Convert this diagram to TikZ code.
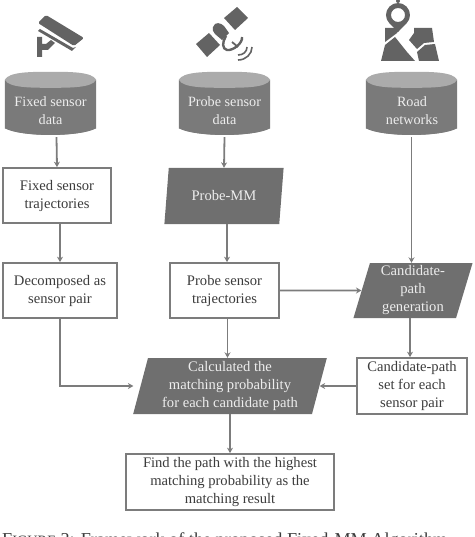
\documentclass[tikz,border=0pt]{standalone}
\usepackage{fontspec}
\setmainfont{Liberation Serif}
\usetikzlibrary{shapes.geometric,arrows.meta}
\definecolor{dk}{HTML}{6F6F6F}
\definecolor{icon}{HTML}{636363}
\definecolor{cyltop}{HTML}{ABABAB}
\definecolor{cylbody}{HTML}{7A7A7A}
\definecolor{edge}{HTML}{7C7C7C}
\definecolor{txt}{HTML}{3C3C3C}
\definecolor{ltxt}{HTML}{EDEDED}
\tikzset{
  x=1pt,y=-1pt,
  every node/.style={font=\fontsize{14.6}{18}\selectfont,align=center,inner sep=0pt},
  whitebox/.style={draw=edge,line width=1.7pt,fill=white,text=txt,rectangle},
  slantbox/.style={trapezium,trapezium left angle=76,trapezium right angle=104,trapezium stretches=true,fill=dk,text=ltxt},
  storeframe/.style={rectangle,minimum width=91pt,minimum height=65pt},
  storelabel/.style={text=ltxt,font=\fontsize{14.2}{18}\selectfont},
  arr/.style={draw=edge,line width=1.8pt,-{Stealth[length=5.5pt,width=6pt]}},
}
\newcommand{\storebody}[1]{%
  \fill[cylbody] ([yshift=-8pt]#1.north west) -- ([yshift=9pt]#1.south west)
    .. controls ([xshift=20pt]#1.south west) and ([xshift=-20pt]#1.south east) .. ([yshift=9pt]#1.south east)
    -- ([yshift=-8pt]#1.north east) -- cycle;
  \fill[cylbody] ([yshift=9pt]#1.south west) .. controls ([xshift=15pt,yshift=-0pt]#1.south west) and ([xshift=-15pt]#1.south east) .. ([yshift=9pt]#1.south east) -- cycle;
  \fill[cyltop] ([yshift=-8pt]#1.north west)
    .. controls ([xshift=4pt]#1.north west) and ([xshift=26pt]#1.north west) .. (#1.north)
    .. controls ([xshift=-26pt]#1.north east) and ([xshift=-4pt]#1.north east) .. ([yshift=-8pt]#1.north east)
    .. controls ([xshift=-4pt,yshift=-16pt]#1.north east) and ([xshift=-26pt,yshift=-16pt]#1.north east) .. ([yshift=-16pt]#1.north)
    .. controls ([xshift=26pt,yshift=-16pt]#1.north west) and ([xshift=4pt,yshift=-16pt]#1.north west) .. ([yshift=-8pt]#1.north west) -- cycle;
}
\begin{document}
\begin{tikzpicture}
\useasboundingbox (0,0) rectangle (474,537);
\clip (0,0) rectangle (474,537);
% stores
\node[storeframe] (s1) at (50.5,104.5) {};
\node[storeframe] (s2) at (224.5,104.5) {};
\node[storeframe] (s3) at (411.5,104.5) {};
\storebody{s1}
\storebody{s2}
\storebody{s3}
\node[storelabel] (t1) at (50.5,111) {Fixed sensor\\data};
\node[storelabel] (t2) at (224.5,111) {Probe sensor\\data};
\node[storelabel] (t3) at (412,111) {Road\\networks};
% boxes
\node[whitebox,minimum width=108pt,minimum height=55pt] (fixed) at (57,195.5) {Fixed sensor\\trajectories};
\node[whitebox,minimum width=114pt,minimum height=55pt] (decomp) at (60,290.5) {Decomposed as\\sensor pair};
\node[slantbox,minimum width=120pt,minimum height=56pt] (mm) at (224,196) {Probe-MM};
\node[whitebox,minimum width=109pt,minimum height=55pt] (ptraj) at (224.5,290.5) {Probe sensor\\trajectories};
\node[slantbox,minimum width=120pt,minimum height=55pt] (cand) at (413,290.5) {Candidate-\\path\\generation};
\node[whitebox,minimum width=110pt,minimum height=56pt] (cset) at (412,386) {Candidate-path\\set for each\\sensor pair};
\node[slantbox,minimum width=194pt,minimum height=56pt] (calc) at (230,386) {Calculated the\\matching probability\\for each candidate path};
\node[whitebox,minimum width=208pt,minimum height=56pt] (find) at (230,482) {Find the path with the highest\\matching probability as the\\matching result};
% connectors
\draw[arr] ([xshift=6]s1.south) -- (fixed.north);
\draw[arr] (s2.south) -- (mm.north);
\draw[arr] (s3.south) -- (s3.south |- cand.north);
\draw[arr] ([xshift=3]fixed.south) -- (decomp.north);
\draw[arr] ([xshift=3]mm.south) -- ([xshift=3]mm.south |- ptraj.north);
\draw[arr] ([xshift=3]ptraj.south) -- ([xshift=3]ptraj.south |- calc.north);
\draw[arr] (ptraj.east) -- (cand.west);
\draw[arr] ([xshift=-3]cand.south) -- ([xshift=-3]cand.south |- cset.north);
\draw[arr] (cset.west) -- (calc.east);
\draw[arr] (decomp.south) |- ([xshift=-7]calc.west);
\draw[arr] (calc.south) -- (find.north);
% camera
\fill[icon,rounded corners=1.5pt] (38,23) -- (46,15) -- (84,38) -- (74,46) -- cycle;
\fill[icon] (38,31) -- (40,29) -- (73,48) -- (76,47) -- (72,51) -- cycle;
\fill[icon] (37,37) -- (42,37) -- (42,44) -- (46,44) -- (51,40) -- (55,43) -- (48,50) -- (42,50) -- (42,57) -- (37,57) -- cycle;
% satellite
\fill[icon] (196,44) -- (209,33) -- (220,45) -- (207,57) -- cycle;
\fill[icon] (224,18) -- (237,7) -- (248,18) -- (235,30) -- cycle;
\fill[icon] (213,27) .. controls (215,21) and (221,23) .. (224,26) -- (229,33) -- (222,40) -- (215,34) .. controls (213,32) and (212,29) .. (213,27) -- cycle;
\draw[icon,line width=2.4pt] (226,36) .. controls (222,42) and (222,49) .. (227,50) .. controls (233,51) and (243,43) .. (242,37);
\draw[icon,line width=1.8pt] (232,42) -- (238,47);
\draw[icon,line width=1.6pt] (238,60) .. controls (246,60) and (252,54) .. (252,47);
\draw[icon,line width=1.6pt] (238,55) .. controls (243,55) and (247,52) .. (247,47);
% map
\fill[icon,even odd rule] (398,32) -- (389.5,23.5) arc[start angle=135,end angle=405,radius=12] -- cycle (405,15) arc[start angle=0,end angle=360,radius=7];
\fill[icon] (398,1) circle[radius=2];
\fill[icon] (385,28) -- (400,28) -- (397,33) -- (385,42) -- cycle;
\fill[icon] (414,28) -- (432,28) -- (434,42) -- (424,43) -- (417,49) -- (409,40) -- (414,33) -- cycle;
\fill[icon] (381,61) -- (385,45) -- (395,37) -- (407,52) -- (415,61) -- cycle;
\fill[icon] (419,61) -- (439,61) -- (435,44) -- (425,45) -- (417,52) -- cycle;
% caption
\node[text=txt,anchor=base west,font=\fontsize{18.2}{22}\selectfont] (cap) at (2,545) {F{\fontsize{14.3}{17}\selectfont IGURE} 3: Framework of the proposed Fixed-MM Algorithm};
\end{tikzpicture}
\end{document}
